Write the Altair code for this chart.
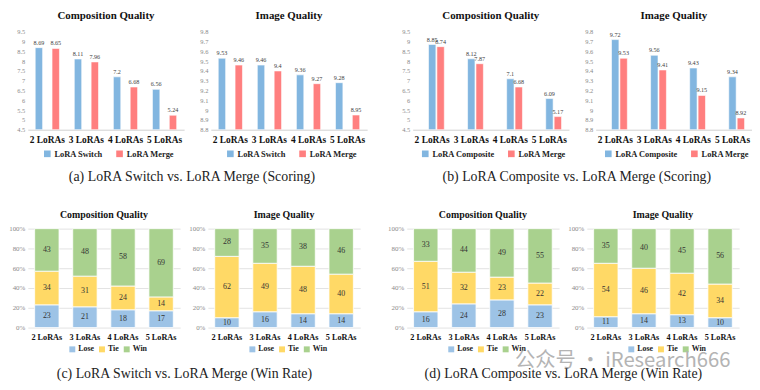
import altair as alt
import pandas as pd

SERIF = "Liberation Serif"
BLUE, RED = "#82B6E0", "#FF7F7F"
C_LOSE, C_TIE, C_WIN = "#9DC3E6", "#FFD966", "#A9D18E"

groups = ["2 LoRAs", "3 LoRAs", "4 LoRAs", "5 LoRAs"]

# (a) LoRA Switch vs. LoRA Merge (Scoring)
a_comp_switch = [8.69, 8.11, 7.2, 6.56]
a_comp_merge = [8.65, 7.96, 6.68, 5.24]
a_img_switch = [9.53, 9.46, 9.36, 9.28]
a_img_merge = [9.46, 9.4, 9.27, 8.95]
# (b) LoRA Composite vs. LoRA Merge (Scoring)
b_comp_composite = [8.85, 8.12, 7.1, 6.09]
b_comp_merge = [8.74, 7.87, 6.68, 5.17]
b_img_composite = [9.72, 9.56, 9.43, 9.34]
b_img_merge = [9.53, 9.41, 9.15, 8.92]
# (c) LoRA Switch vs. LoRA Merge (Win Rate)
c_comp_lose = [23, 21, 18, 17]
c_comp_tie = [34, 31, 24, 14]
c_comp_win = [43, 48, 58, 69]
c_img_lose = [10, 16, 14, 14]
c_img_tie = [62, 49, 48, 40]
c_img_win = [28, 35, 38, 46]
# (d) LoRA Composite vs. LoRA Merge (Win Rate)
d_comp_lose = [16, 24, 28, 23]
d_comp_tie = [51, 32, 23, 22]
d_comp_win = [33, 44, 49, 55]
d_img_lose = [11, 14, 13, 10]
d_img_tie = [54, 46, 42, 34]
d_img_win = [35, 40, 45, 56]

comp_ticks = [4.5, 5, 5.5, 6, 6.5, 7, 7.5, 8, 8.5, 9, 9.5]
img_ticks = [8.8, 8.9, 9.0, 9.1, 9.2, 9.3, 9.4, 9.5, 9.6, 9.7, 9.8]
pct_ticks = [0, 20, 40, 60, 80, 100]

TW, TH = 158, 99
BW, BH = 154, 100


def score_panel(title, s1name, s1, s2name, s2, ymin, ymax, yvals, legend_w):
    df = pd.DataFrame({
        "group": groups * 2,
        "series": [s1name] * 4 + [s2name] * 4,
        "value": s1 + s2,
    })
    x = alt.X("group:N", sort=groups, title=None,
              scale=alt.Scale(paddingInner=0.38, paddingOuter=0.19),
              axis=alt.Axis(labelAngle=0, labelFont=SERIF, labelFontWeight="bold",
                            labelFontSize=9.5, labelColor="#111", ticks=False,
                            domainColor="#d0d0d0", labelPadding=5))
    xo = alt.XOffset("series:N", sort=[s1name, s2name],
                     scale=alt.Scale(paddingInner=0.12, paddingOuter=0))
    yaxis = alt.Axis(values=yvals, format="~g", grid=False, domain=False,
                     ticks=False, labelFontSize=6.5, labelColor="#8a8a8a",
                     labelFont=SERIF, labelPadding=3, labelOverlap=False)
    y = alt.Y("value:Q", title=None,
              scale=alt.Scale(domain=[ymin, ymax], zero=False, nice=False),
              axis=yaxis)
    color = alt.Color("series:N", sort=[s1name, s2name],
                      scale=alt.Scale(domain=[s1name, s2name], range=[BLUE, RED]),
                      legend=alt.Legend(orient="none", direction="horizontal", title=None,
                                        legendX=(TW - legend_w) / 2, legendY=119,
                                        symbolType="square", symbolSize=45,
                                        symbolStrokeWidth=0, labelFont=SERIF,
                                        labelFontWeight="bold", labelFontSize=8.5,
                                        labelColor="#222", columnPadding=12,
                                        labelOffset=3))
    bars = alt.Chart(df).mark_bar(stroke="white", strokeWidth=0.6, clip=True).encode(
        x=x, xOffset=xo, y=y, y2=alt.datum(ymin), color=color)
    text = alt.Chart(df).mark_text(baseline="bottom", dy=-2, font=SERIF, fontSize=6.2,
                                   color="#404040").encode(
        x=x, xOffset=xo, y=y, text=alt.Text("value:Q", format="~g"))
    return alt.layer(bars, text).properties(
        width=TW, height=TH,
        title=alt.Title(title, fontSize=11, font=SERIF, fontWeight="bold",
                        color="#111", offset=8))


def rate_panel(title, lose, tie, win):
    df = pd.DataFrame({
        "group": groups * 3,
        "outcome": ["Lose"] * 4 + ["Tie"] * 4 + ["Win"] * 4,
        "order": [0] * 4 + [1] * 4 + [2] * 4,
        "value": lose + tie + win,
    })
    base = alt.Chart(df).transform_stack(
        stack="value", groupby=["group"], as_=["y0", "y1"],
        sort=[alt.SortField("order", order="ascending")]
    ).transform_calculate(mid="(datum.y0 + datum.y1) / 2")
    x = alt.X("group:N", sort=groups, title=None,
              scale=alt.Scale(paddingInner=0.36, paddingOuter=0.18),
              axis=alt.Axis(labelAngle=0, labelFont=SERIF, labelFontWeight="bold",
                            labelFontSize=8.3, labelColor="#111", ticks=False,
                            domain=False, labelPadding=5))
    yscale = alt.Scale(domain=[0, 100], nice=False)
    yaxis = alt.Axis(values=pct_ticks, labelExpr="datum.value + '%'",
                     grid=True, gridColor="#dcdcdc", gridWidth=0.8,
                     domain=False, ticks=False, labelFontSize=7,
                     labelColor="#8a8a8a", labelFont=SERIF, labelPadding=3,
                     labelOverlap=False, labelFlush=False)
    y = alt.Y("y0:Q", title=None, scale=yscale, axis=yaxis)
    color = alt.Color("outcome:N", sort=["Lose", "Tie", "Win"],
                      scale=alt.Scale(domain=["Lose", "Tie", "Win"],
                                      range=[C_LOSE, C_TIE, C_WIN]),
                      legend=alt.Legend(orient="none", direction="horizontal", title=None,
                                        legendX=(BW - 72) / 2, legendY=118,
                                        symbolType="square", symbolSize=36,
                                        symbolStrokeWidth=0, labelFont=SERIF,
                                        labelFontWeight="bold", labelFontSize=8,
                                        labelColor="#222", columnPadding=4,
                                        labelOffset=2))
    bars = base.mark_bar(stroke="white", strokeWidth=0.8).encode(
        x=x, y=y, y2="y1:Q", color=color)
    text = base.mark_text(baseline="middle", font=SERIF, fontSize=8,
                          color="#333").encode(
        x=x, y=alt.Y("mid:Q", title=None, scale=yscale, axis=yaxis),
        text=alt.Text("value:Q"))
    return alt.layer(bars, text).properties(
        width=BW, height=BH,
        title=alt.Title(title, fontSize=10, font=SERIF, fontWeight="bold",
                        color="#111", offset=5))


def caption(txt, offset):
    return alt.Title(txt, orient="bottom", anchor="middle", fontSize=14, font=SERIF,
                     fontWeight="normal", color="#222", offset=offset)


p1 = score_panel("Composition Quality", "LoRA Switch", a_comp_switch, "LoRA Merge",
                 a_comp_merge, 4.5, 9.5, comp_ticks, 127)
p2 = score_panel("Image Quality", "LoRA Switch", a_img_switch, "LoRA Merge",
                 a_img_merge, 8.8, 9.8, img_ticks, 127)
p3 = score_panel("Composition Quality", "LoRA Composite", b_comp_composite, "LoRA Merge",
                 b_comp_merge, 4.5, 9.5, comp_ticks, 141)
p4 = score_panel("Image Quality", "LoRA Composite", b_img_composite, "LoRA Merge",
                 b_img_merge, 8.8, 9.8, img_ticks, 141)
p5 = rate_panel("Composition Quality", c_comp_lose, c_comp_tie, c_comp_win)
p6 = rate_panel("Image Quality", c_img_lose, c_img_tie, c_img_win)
p7 = rate_panel("Composition Quality", d_comp_lose, d_comp_tie, d_comp_win)
p8 = rate_panel("Image Quality", d_img_lose, d_img_tie, d_img_win)

gA = alt.hconcat(p1, p2, spacing=15).properties(
    title=caption("(a) LoRA Switch vs. LoRA Merge (Scoring)", 12)).resolve_scale(color="independent")
gB = alt.hconcat(p3, p4, spacing=15).properties(
    title=caption("(b) LoRA Composite vs. LoRA Merge (Scoring)", 12)).resolve_scale(color="independent")
gC = alt.hconcat(p5, p6, spacing=8).properties(
    title=caption("(c) LoRA Switch vs. LoRA Merge (Win Rate)", 14)).resolve_scale(color="independent")
gD = alt.hconcat(p7, p8, spacing=8).properties(
    title=caption("(d) LoRA Composite vs. LoRA Merge (Win Rate)", 14)).resolve_scale(color="independent")

row1 = alt.hconcat(gA, gB, spacing=34).resolve_scale(color="independent")
row2 = alt.hconcat(gC, gD, spacing=27).resolve_scale(color="independent")

chart = alt.vconcat(row1, row2, spacing=26).resolve_scale(color="independent").properties(
    padding=0,
    background="white",
    title=alt.Title("公众号 · iResearch666", orient="bottom", anchor="middle",
                    font="Noto Sans CJK SC", fontSize=20.5, fontWeight="normal",
                    color="#b4b4b4", offset=-30, dx=245),
).configure_view(stroke=None)

chart.save("out.html", embed_options={"renderer": "svg", "actions": False})
